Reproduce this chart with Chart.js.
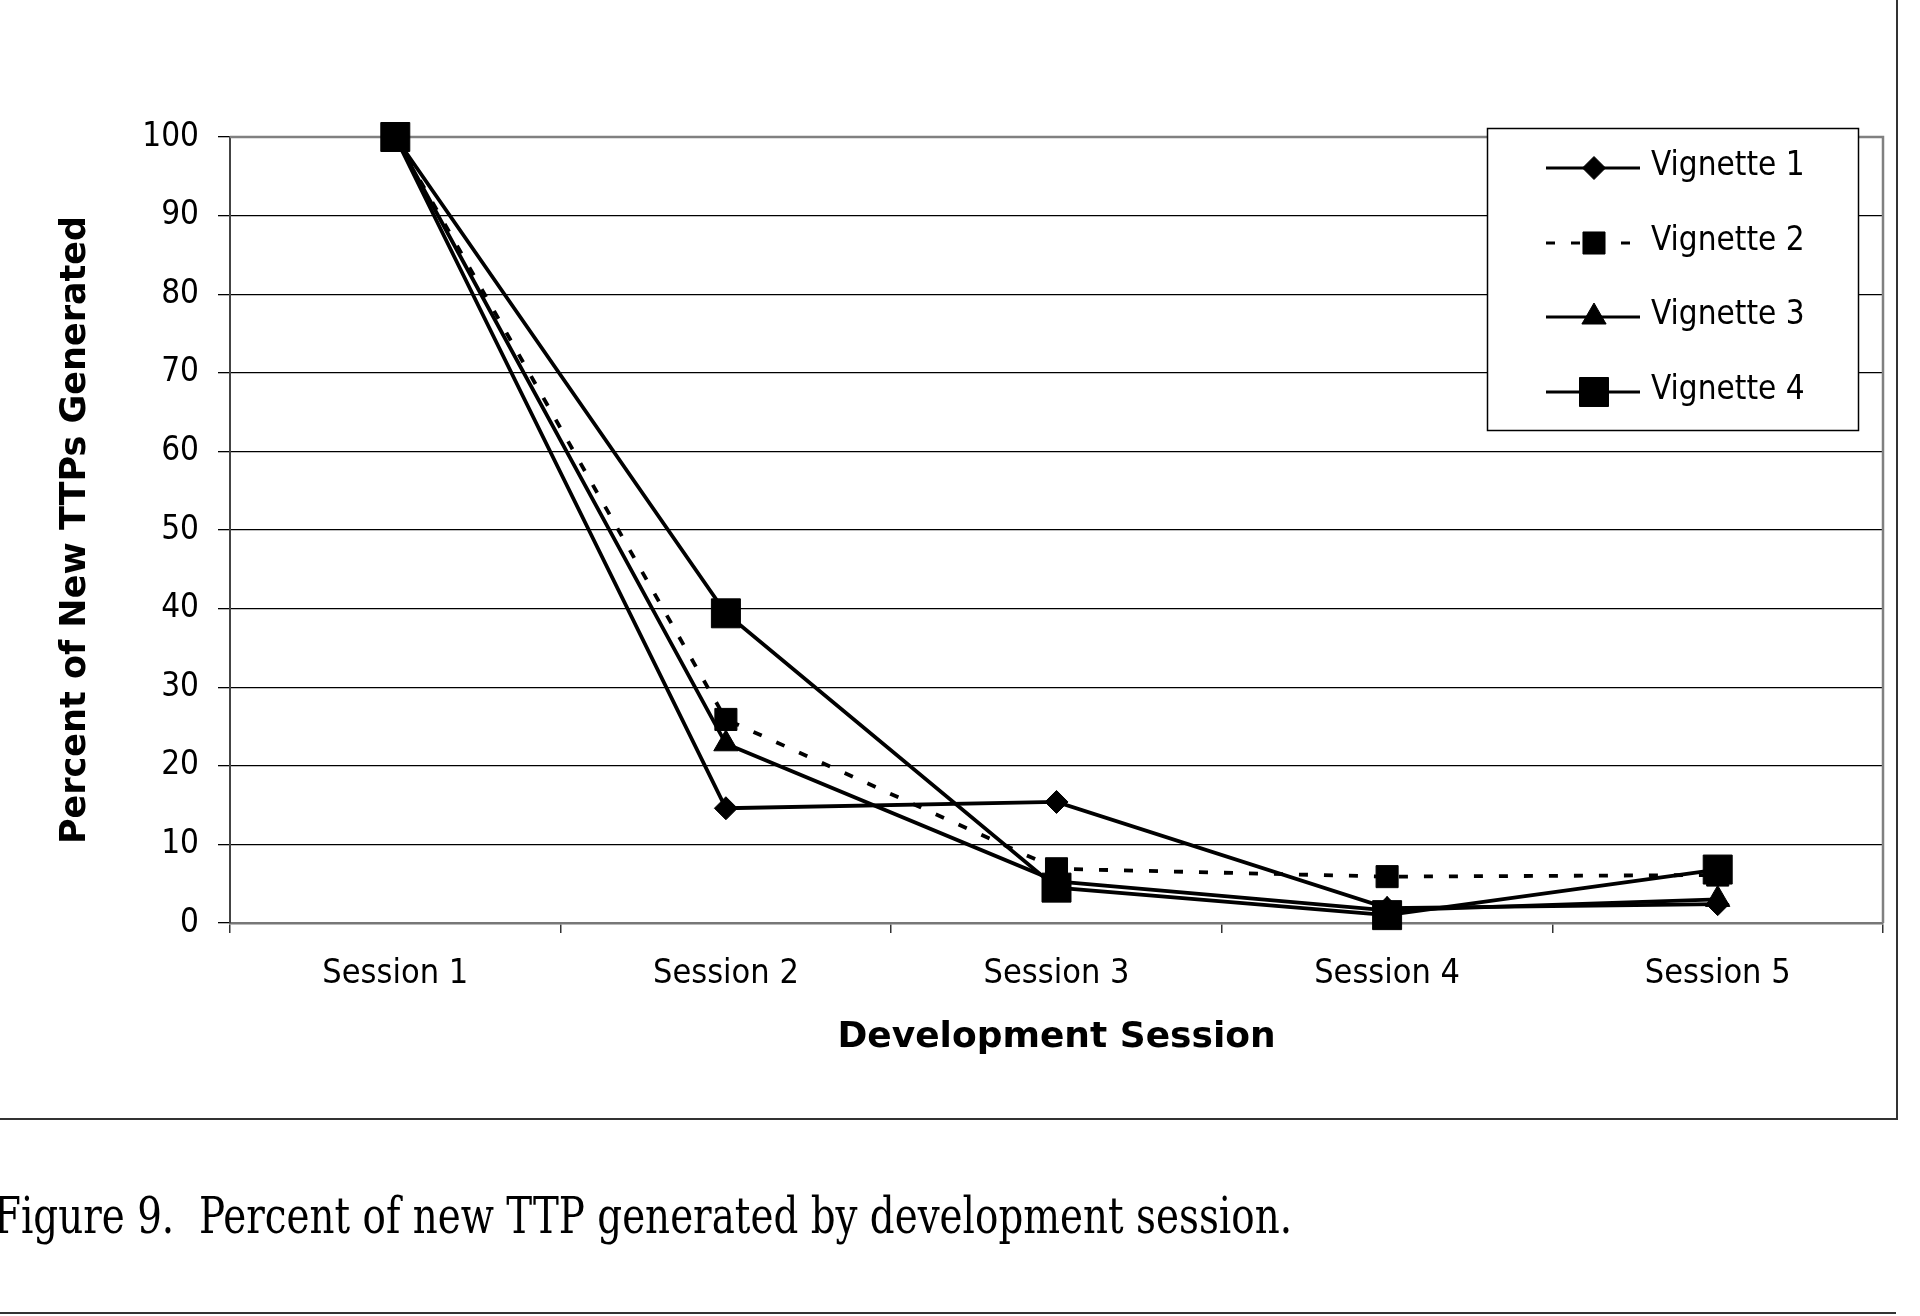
<!DOCTYPE html>
<html>
<head>
<meta charset="utf-8">
<title>Percent of new TTP generated by development session</title>
<script src="https://cdn.jsdelivr.net/npm/chart.js@4.4.1/dist/chart.umd.min.js"></script>
<style>
  html, body { margin: 0; padding: 0; background: #fff; overflow: hidden; }
  #wrap { position: relative; width: 1920px; height: 1316px; }
  #frame { position: absolute; left: -10px; top: -10px; width: 1908px; height: 1130px;
           border: 2px solid #333; box-sizing: border-box; }
  #chart { position: absolute; left: 0; top: 0; }
  #caption { position: absolute; left: -6px; top: 1191px; font: 50px/1 'DejaVu Serif', serif;
             white-space: pre; color: #000; transform-origin: 0 0; }
  #rule { position: absolute; left: 0; top: 1312px; width: 1896px; height: 2px; background: #333; }
</style>
</head>
<body>
<div id="wrap">
  <div id="frame"></div>
  <canvas id="chart" width="1920" height="1316"></canvas>
  <div id="caption">Figure 9.  Percent of new TTP generated by development session.</div>
  <div id="rule"></div>
</div>
<script>
// values
var sessions = ['Session 1', 'Session 2', 'Session 3', 'Session 4', 'Session 5'];
var vignette1 = [100, 14.6, 15.4, 1.9, 2.4];
var vignette2 = [100, 25.9, 6.9, 5.9, 6.1];
var vignette3 = [100, 22.8, 5.3, 1.6, 3.0];
var vignette4 = [100, 39.4, 4.5, 1.0, 6.8];
var yTicks = [0, 10, 20, 30, 40, 50, 60, 70, 80, 90, 100];

var sansCond = "'DejaVu Sans Condensed', 'DejaVu Sans', sans-serif";
var sansBold = "'DejaVu Sans', sans-serif";

// grey frame on top and right of the plot area, like Excel
var plotFrame = {
    id: 'plotFrame',
    beforeDatasetsDraw: function(chart) {
        var a = chart.chartArea, ctx = chart.ctx;
        ctx.save();
        ctx.strokeStyle = '#808080';
        ctx.lineWidth = 2.5;
        ctx.beginPath();
        ctx.moveTo(a.left, a.top);
        ctx.lineTo(a.right, a.top);
        ctx.lineTo(a.right, a.bottom);
        ctx.stroke();
        ctx.restore();
    }
};

// boxed legend with line + marker samples
var boxLegend = {
    id: 'boxLegend',
    afterDraw: function(chart) {
        var ctx = chart.ctx;
        var bx = 1487, by = 128, bw = 371, bh = 302;
        var rows = [168, 243, 317, 392];
        ctx.save();
        ctx.fillStyle = '#fff';
        ctx.fillRect(bx, by, bw, bh);
        ctx.strokeStyle = '#000';
        ctx.lineWidth = 1.5;
        ctx.strokeRect(bx + 0.5, by + 0.5, bw, bh);
        chart.data.datasets.forEach(function(ds, i) {
            var y = rows[i];
            ctx.strokeStyle = '#000';
            ctx.lineWidth = 3.2;
            ctx.setLineDash(ds.borderDash || []);
            ctx.beginPath();
            ctx.moveTo(1546, y);
            ctx.lineTo(1640, y);
            ctx.stroke();
            ctx.setLineDash([]);
            ctx.fillStyle = '#000';
            ctx.lineWidth = 1;
            Chart.helpers.drawPoint(ctx, {pointStyle: ds.pointStyle, radius: ds.pointRadius, borderWidth: 1, rotation: 0}, 1594, y);
            ctx.fillStyle = '#000';
            ctx.font = "33px " + sansCond;
            ctx.textBaseline = 'middle';
            ctx.textAlign = 'left';
            ctx.fillText(ds.label, 1651, y - 2);
        });
        ctx.restore();
    }
};

function series(label, data, style, radius, dash, order) {
    return {
        label: label,
        data: data,
        borderColor: '#000',
        backgroundColor: '#000',
        borderWidth: 3.8,
        borderDash: dash,
        tension: 0,
        fill: false,
        pointStyle: style,
        pointRadius: radius,
        pointHoverRadius: radius,
        pointBackgroundColor: '#000',
        pointBorderColor: '#000',
        pointBorderWidth: 1,
        clip: false,
        order: order
    };
}

var chartdata = {
    labels: sessions,
    datasets: [
        series('Vignette 1', vignette1, 'rectRot', 11.5, [], 4),
        series('Vignette 2', vignette2, 'rect', 15.6, [9, 16], 3),
        series('Vignette 3', vignette3, 'triangle', 14, [], 2),
        series('Vignette 4', vignette4, 'rect', 20.5, [], 1)
    ]
};

var ctx = document.getElementById('chart').getContext('2d');
var lineChart = new Chart(ctx, {
    type: 'line',
    data: chartdata,
    plugins: [plotFrame, boxLegend],
    options: {
        responsive: false,
        animation: false,
        devicePixelRatio: 1,
        layout: { padding: { top: 137, left: 0, right: 37, bottom: 233 } },
        plugins: {
            legend: { display: false },
            tooltip: { enabled: false }
        },
        scales: {
            x: {
                type: 'category',
                offset: true,
                afterFit: function(scale) { scale.height = 160; },
                grid: { offset: true, drawOnChartArea: false, drawTicks: true, tickLength: 10, color: '#333', lineWidth: 1.5 },
                border: { display: true, color: '#777', width: 2.5 },
                ticks: { color: '#000', padding: 21, font: { family: sansCond, size: 34 } },
                title: { display: true, text: 'Development Session', color: '#000', padding: { top: 0, bottom: 24 },
                         font: { family: sansBold, size: 36, weight: 'bold' } }
            },
            y: {
                min: 0,
                max: 100,
                afterFit: function(scale) { scale.width = 230; },
                afterBuildTicks: function(scale) {
                    scale.ticks = yTicks.map(function(v) { return { value: v }; });
                },
                grid: { color: '#000', lineWidth: 1.3, drawTicks: true, tickLength: 12 },
                border: { display: true, color: '#444', width: 2 },
                ticks: { color: '#000', padding: 19, font: { family: sansCond, size: 33 } },
                title: { display: true, text: 'Percent of New TTPs Generated', color: '#000', padding: { top: 55, bottom: 0 },
                         font: { family: sansBold, size: 35, weight: 'bold' } }
            }
        }
    }
});

// caption: fit the condensed serif line to the width it has in the figure
var cap = document.getElementById('caption');
var w = cap.getBoundingClientRect().width;
cap.style.transform = 'scaleX(' + (1298 / w) + ')';
</script>
</body>
</html>
